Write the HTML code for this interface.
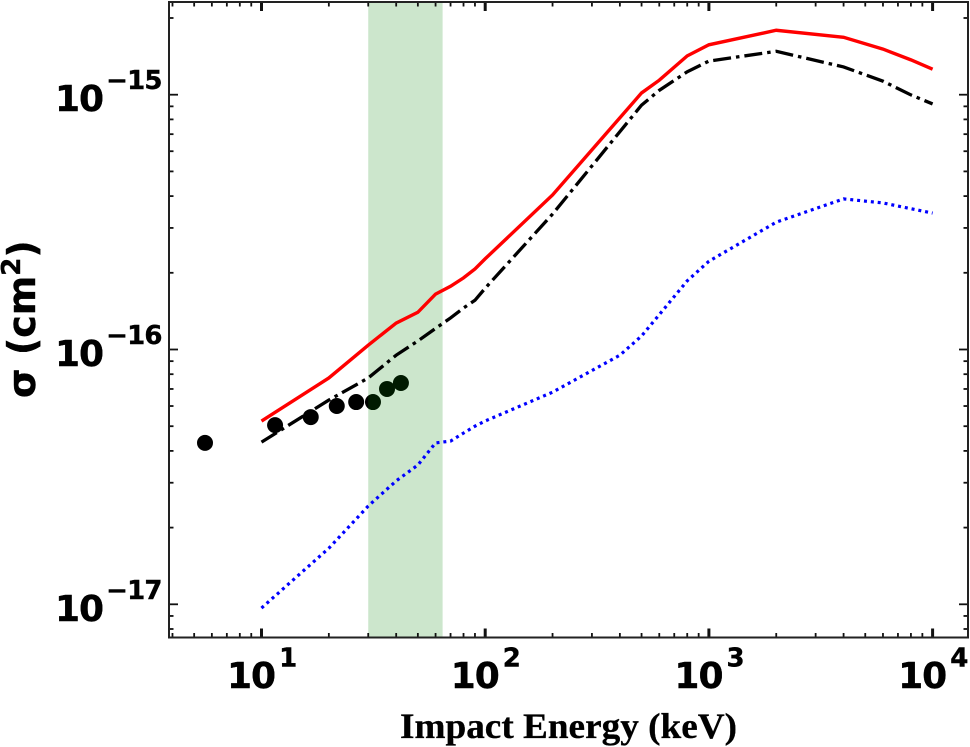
<!DOCTYPE html>
<html lang="en">
<head>
<meta charset="utf-8">
<title>Cross section vs impact energy</title>
<style>
html,body{margin:0;padding:0;background:#fff;width:970px;height:747px;overflow:hidden}
svg{display:block}
.tick-text{font-family:"DejaVu Sans","Liberation Sans",sans-serif;font-weight:700;fill:#000;stroke:#000;stroke-width:0.4}
</style>
</head>
<body>
<svg id="chart" xmlns="http://www.w3.org/2000/svg" width="970" height="747" viewBox="0 0 970 747">
  <rect x="0" y="0" width="970" height="747" fill="#fff"/>
  <g id="points"></g>
  <rect id="band" fill="#008000" fill-opacity="0.2"/>
  <g id="lines"></g>
  <g id="ticks"></g>
  <rect x="169" y="2" width="799" height="635.5" fill="none" stroke="#222" stroke-width="2"/>
  <g id="labels"></g>
  <text x="400" y="738" font-family="'Liberation Serif',serif" font-weight="700" font-size="36" textLength="337" lengthAdjust="spacingAndGlyphs" stroke="#000" stroke-width="0.3" fill="#000">Impact Energy (keV)</text>
  <text transform="translate(35,398) rotate(-90)" font-family="'DejaVu Sans','Liberation Sans',sans-serif" font-weight="700" font-size="38" stroke="#000" stroke-width="0.4" fill="#000">σ (cm<tspan font-size="26" dy="-15">2</tspan><tspan dy="15">)</tspan></text>
</svg>
<script>
const energies = [10,20,30,40,50,60,70,80,90,100,200,500,600,800,1000,2000,4000,6000,8000,10000];
const redValues = [5.24e-17,7.73e-17,1.04e-16,1.27e-16,1.40e-16,1.65e-16,1.77e-16,1.91e-16,2.07e-16,2.27e-16,4.04e-16,1.016e-15,1.14e-15,1.42e-15,1.57e-15,1.79e-15,1.68e-15,1.51e-15,1.37e-15,1.26e-15];
const blackValues = [4.33e-17,6.33e-17,7.73e-17,9.5e-17,1.08e-16,1.21e-16,1.33e-16,1.455e-16,1.56e-16,1.74e-16,3.4e-16,9.1e-16,1.04e-15,1.23e-15,1.355e-15,1.48e-15,1.285e-15,1.13e-15,9.98e-16,9.2e-16];
const blueEnergies = [10,20,30,40,50,60,70,80,90,100,200,400,500,600,800,1000,2000,4000,6000,10000];
const blueValues = [9.67e-18,1.66e-17,2.43e-17,3.05e-17,3.52e-17,4.3e-17,4.37e-17,4.7e-17,5.0e-17,5.24e-17,6.8e-17,9.5e-17,1.13e-16,1.37e-16,1.86e-16,2.22e-16,3.16e-16,3.9e-16,3.76e-16,3.43e-16];
const pointEnergies = [5.59,11.5,16.6,21.7,26.5,31.5,36.4,42.0];
const pointValues = [4.3e-17,5.05e-17,5.43e-17,6.0e-17,6.22e-17,6.22e-17,7.0e-17,7.39e-17];
const bandRange = [30,64.5];
const xDecades = [1,2,3,4];
const yDecades = [-15,-16,-17];

const NS = 'http://www.w3.org/2000/svg';
const plot = {left:169, right:968, top:2, bottom:637.5};
function xScale(e){ return 261.5 + 223.7 * (Math.log10(e) - 1); }
function yScale(s){ return 349.5 - 254.8 * (Math.log10(s) + 16); }
function make(tag, parent){
  const el = document.createElementNS(NS, tag);
  parent.appendChild(el);
  return el;
}
function pathFor(xs, ys){
  return xs.map((e,i)=>(i?'L':'M')+xScale(e).toFixed(2)+' '+yScale(ys[i]).toFixed(2)).join(' ');
}

/* scatter */
const pointsG = document.getElementById('points');
pointEnergies.forEach((e,i)=>{
  const c = make('circle', pointsG);
  
  
  c.setAttribute('cx', xScale(e));
  c.setAttribute('cy', yScale(pointValues[i]));
  c.setAttribute('r', 8);
  c.setAttribute('fill', '#000');
});

/* band */
const band = document.getElementById('band');
band.setAttribute('x', xScale(bandRange[0]));
band.setAttribute('y', plot.top);
band.setAttribute('width', xScale(bandRange[1]) - xScale(bandRange[0]));
band.setAttribute('height', plot.bottom - plot.top);

/* lines */
const linesG = document.getElementById('lines');
const blackLine = make('path', linesG);


blackLine.setAttribute('d', pathFor(energies, blackValues));
blackLine.setAttribute('fill', 'none');
blackLine.setAttribute('stroke', '#000');
blackLine.setAttribute('stroke-width', '3.3');
blackLine.setAttribute('stroke-dasharray', '18 5 3.5 5');

const blueLine = make('path', linesG);


blueLine.setAttribute('d', pathFor(blueEnergies, blueValues));
blueLine.setAttribute('fill', 'none');
blueLine.setAttribute('stroke', '#0000ff');
blueLine.setAttribute('stroke-width', '3.2');
blueLine.setAttribute('stroke-dasharray', '3 3.9');

const redLine = make('path', linesG);


redLine.setAttribute('d', pathFor(energies, redValues));
redLine.setAttribute('fill', 'none');
redLine.setAttribute('stroke', '#ff0000');
redLine.setAttribute('stroke-width', '3.4');

/* ticks */
const ticksG = document.getElementById('ticks');
function tick(x1,y1,x2,y2,w,name){
  const l = make('line', ticksG);
  
  
  l.setAttribute('x1', x1);
  l.setAttribute('y1', y1);
  l.setAttribute('x2', x2);
  l.setAttribute('y2', y2);
  l.setAttribute('stroke', '#111');
  l.setAttribute('stroke-width', w);
}
for (let d = 0; d <= 4; d++){
  for (let m = 1; m <= 9; m++){
    const x = xScale(m * Math.pow(10, d));
    if (x <= plot.left + 1 || x >= plot.right - 1) continue;
    const major = m === 1;
    const len = major ? 9 : 4.5;
    const w = major ? 3 : 1.8;
    tick(x, plot.bottom, x, plot.bottom - len, w, 'x-tick');
    tick(x, plot.top, x, plot.top + len, w, 'x-tick-top');
  }
}
for (let d = -18; d <= -15; d++){
  for (let m = 1; m <= 9; m++){
    const y = yScale(m * Math.pow(10, d));
    if (y <= plot.top + 1 || y >= plot.bottom - 1) continue;
    const major = m === 1;
    const len = major ? 9 : 4.5;
    tick(plot.left, y, plot.left + len, y, 1.8, 'y-tick');
    tick(plot.right, y, plot.right - len, y, 1.8, 'y-tick-right');
  }
}

/* tick labels */
const labelsG = document.getElementById('labels');
function powerLabel(x, y, exponent, supDx, supDy, name){
  const t = make('text', labelsG);
  
  
  t.setAttribute('class', 'tick-text');
  t.setAttribute('x', x);
  t.setAttribute('y', y);
  t.setAttribute('font-size', '36');
  t.setAttribute('letter-spacing', '-1');
  t.textContent = '10';
  const s = make('tspan', t);
  s.setAttribute('font-size', '26');
  s.setAttribute('dx', supDx);
  s.setAttribute('dy', supDy);
  s.setAttribute('letter-spacing', '-0.8');
  s.textContent = exponent;
}
xDecades.forEach(d=>{
  powerLabel(xScale(Math.pow(10,d)) - 34.5, 688, String(d), 4, -21.5, 'x-tick-label');
});
yDecades.forEach(d=>{
  powerLabel(55, yScale(Math.pow(10,d)) + 16.5, '\u2212' + String(-d), 3, -22, 'y-tick-label');
});
</script>
</body>
</html>
